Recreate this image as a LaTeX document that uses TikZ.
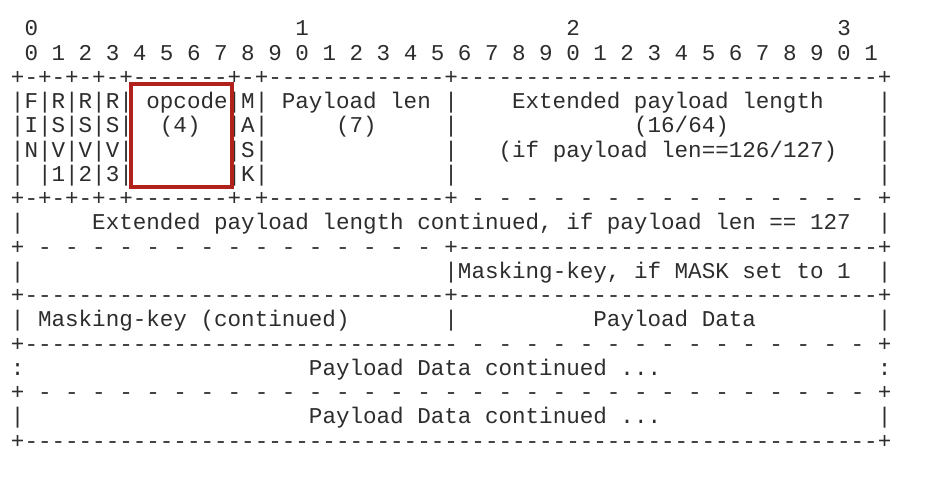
\documentclass[tikz,border=0pt]{standalone}
\usepackage{fontspec}
\setmonofont{Liberation Mono}
\definecolor{asciigray}{RGB}{45,45,45}
\definecolor{opred}{RGB}{178,34,28}
\newcommand{\blanks}[1]{\hspace*{#1\fontcharwd\font`x}}
\tikzset{
  frameline/.style={anchor=base west, inner sep=0pt, text=asciigray,
    font=\ttfamily\fontsize{16.93pt}{18pt}\selectfont},
  opbox/.style={draw=opred, line width=3pt, inner sep=0pt}
}
\begin{document}
\begin{tikzpicture}[x=0.75pt,y=-0.75pt]
\useasboundingbox[fill=white] (0,0) rectangle (947,484);
\node[frameline] (row0) at (10.7,36.00) {\blanks{1}0\blanks{19}1\blanks{19}2\blanks{19}3};
\node[frameline] (row1) at (10.7,60.25) {\blanks{1}0 1 2 3 4 5 6 7 8 9 0 1 2 3 4 5 6 7 8 9 0 1 2 3 4 5 6 7 8 9 0 1};
\node[frameline] (row2) at (10.7,84.50) {+-+-+-+-+-------+-+-------------+-------------------------------+};
\node[frameline] (row3) at (10.7,108.75) {|F|R|R|R| opcode|M| Payload len |\blanks{4}Extended payload length\blanks{4}|};
\node[frameline] (row4) at (10.7,133.00) {|I|S|S|S|\blanks{2}(4)\blanks{2}|A|\blanks{5}(7)\blanks{5}|\blanks{13}(16/64)\blanks{11}|};
\node[frameline] (row5) at (10.7,157.25) {|N|V|V|V|\blanks{7}|S|\blanks{13}|\blanks{3}(if payload len==126/127)\blanks{3}|};
\node[frameline] (row6) at (10.7,181.50) {| |1|2|3|\blanks{7}|K|\blanks{13}|\blanks{31}|};
\node[frameline] (row7) at (10.7,205.75) {+-+-+-+-+-------+-+-------------+ - - - - - - - - - - - - - - - +};
\node[frameline] (row8) at (10.7,230.00) {|\blanks{5}Extended payload length continued, if payload len == 127\blanks{2}|};
\node[frameline] (row9) at (10.7,254.25) {+ - - - - - - - - - - - - - - - +-------------------------------+};
\node[frameline] (row10) at (10.7,278.50) {|\blanks{31}|Masking-key, if MASK set to 1\blanks{2}|};
\node[frameline] (row11) at (10.7,302.75) {+-------------------------------+-------------------------------+};
\node[frameline] (row12) at (10.7,327.00) {| Masking-key (continued)\blanks{7}|\blanks{10}Payload Data\blanks{9}|};
\node[frameline] (row13) at (10.7,351.25) {+-------------------------------- - - - - - - - - - - - - - - - +};
\node[frameline] (row14) at (10.7,375.50) {:\blanks{21}Payload Data continued ...\blanks{16}:};
\node[frameline] (row15) at (10.7,399.75) {+ - - - - - - - - - - - - - - - - - - - - - - - - - - - - - - - +};
\node[frameline] (row16) at (10.7,424.00) {|\blanks{21}Payload Data continued ...\blanks{16}|};
\node[frameline] (row17) at (10.7,448.25) {+---------------------------------------------------------------+};
\node[opbox, minimum width=76.1pt, minimum height=77.3pt] (opcodebox) at (181.25,135.5) {};
\end{tikzpicture}
\end{document}
